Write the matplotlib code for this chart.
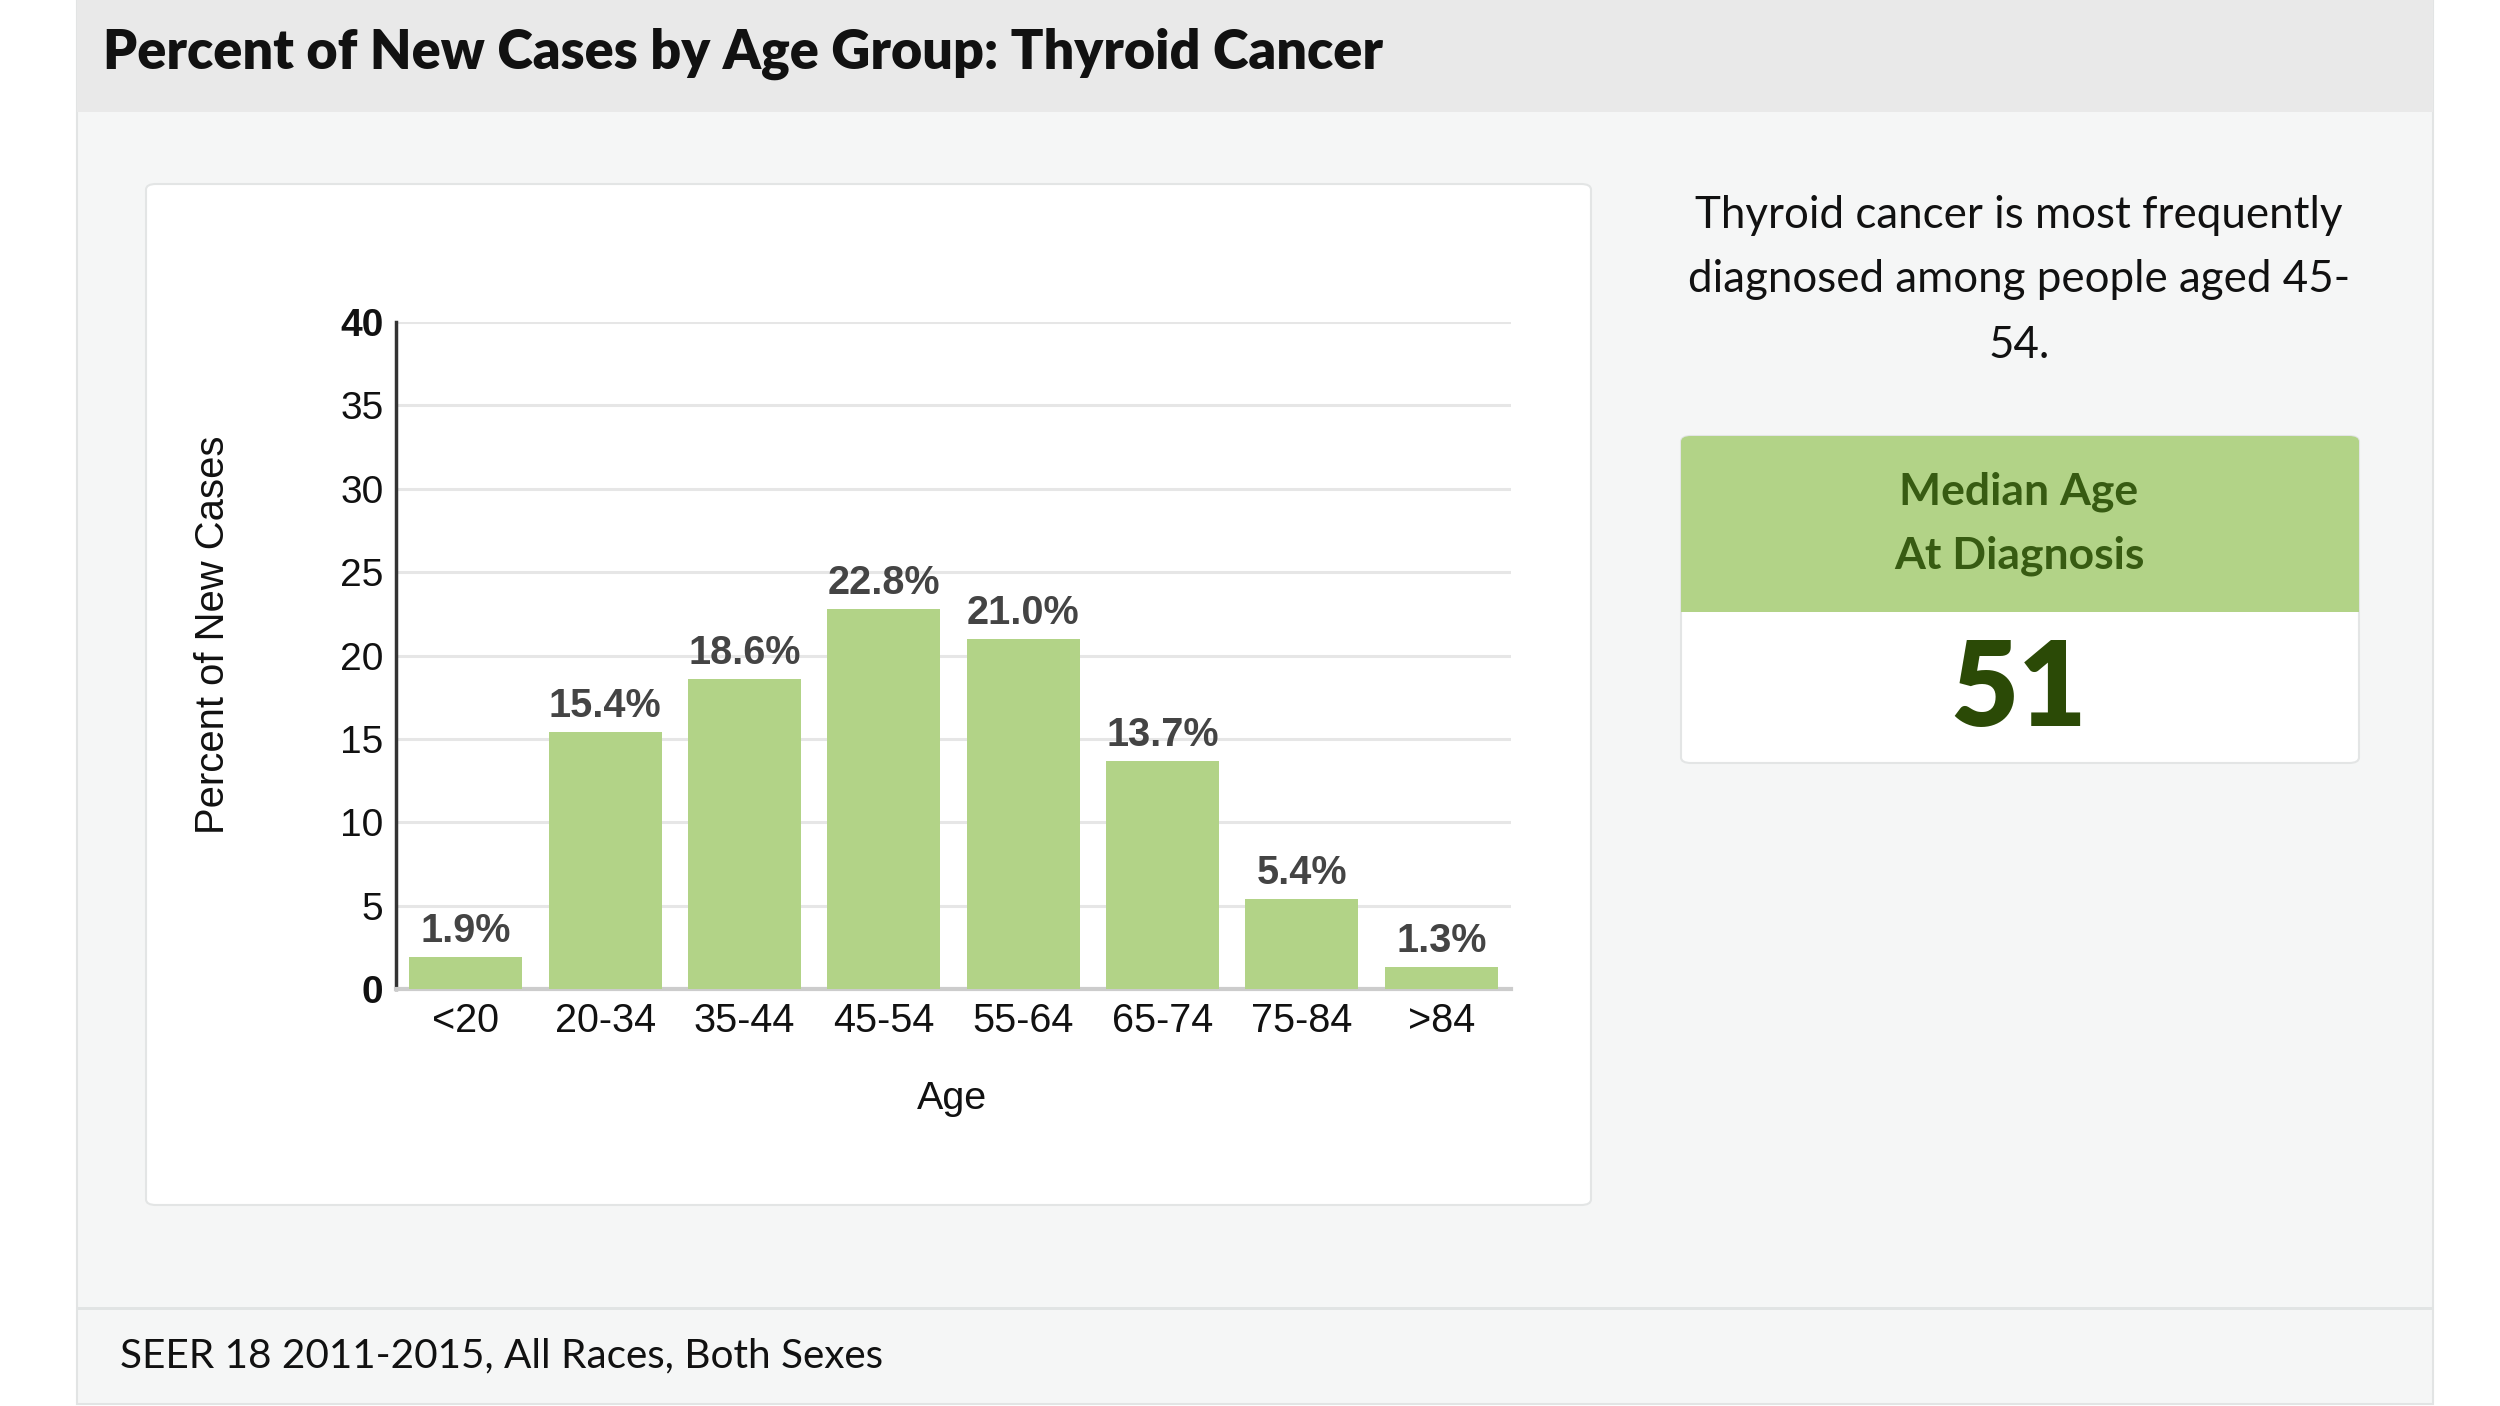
import matplotlib
matplotlib.use("Agg")
import matplotlib.pyplot as plt
from matplotlib.patches import FancyBboxPatch, Rectangle

# ---- data ----
age_groups = ["<20", "20-34", "35-44", "45-54", "55-64", "65-74", "75-84", ">84"]
percent_new_cases = [1.9, 15.4, 18.6, 22.8, 21.0, 13.7, 5.4, 1.3]
y_ticks = [0, 5, 10, 15, 20, 25, 30, 35, 40]
title_text = "Percent of New Cases by Age Group: Thyroid Cancer"
summary_text = ["Thyroid cancer is most frequently", "diagnosed among people aged 45-", "54."]
median_label = ["Median Age", "At Diagnosis"]
median_age = "51"
footer_text = "SEER 18 2011-2015, All Races, Both Sexes"

W, H = 2500, 1406
fig = plt.figure(figsize=(W / 100, H / 100), dpi=100)
fig.patch.set_facecolor("white")
renderer = fig.canvas.get_renderer()


def fx(x):
    return x / W


def fy(y):
    return 1 - y / H


def rect(x0, y0, x1, y1, fc, ec="none", lw=0, rounded=0, z=0):
    if rounded:
        p = FancyBboxPatch((fx(x0), fy(y1)), fx(x1) - fx(x0), fy(y0) - fy(y1),
                           boxstyle=f"round,pad=0,rounding_size={rounded / W}",
                           transform=fig.transFigure, fc=fc, ec=ec, lw=lw, zorder=z)
    else:
        p = Rectangle((fx(x0), fy(y1)), fx(x1) - fx(x0), fy(y0) - fy(y1),
                      transform=fig.transFigure, fc=fc, ec=ec, lw=lw, zorder=z)
    fig.add_artist(p)
    return p


def fit_text(x, y, s, target_w, ha="center", va="center", vertical=False, **kw):
    t = fig.text(fx(x), fy(y), s, ha=ha, va=va, fontsize=20,
                 rotation=90 if vertical else 0, zorder=10, **kw)
    bb = t.get_window_extent(renderer)
    w = bb.height if vertical else bb.width
    t.set_fontsize(20 * target_w / w)
    return t


# ---- panel backgrounds ----
rect(77, 0, 2433, 1404, "#f5f6f6", ec="#e2e4e4", lw=1.5, z=0)
rect(77, 0, 2433, 112, "#e9e9e9", z=1)
rect(77, 1307, 2433, 1310, "#e1e4e4", z=1)

# chart card
rect(146, 184, 1591, 1205, "white", ec="#e3e5e5", lw=1.5, rounded=10, z=1)

# title
fit_text(103, 54, title_text, 1278, ha="left", family="Lato", weight="heavy", color="#111111")

# ---- bar chart ----
ax = fig.add_axes([fx(396), fy(989), fx(1511) - fx(396), fy(322) - fy(989)])
ax.set_zorder(5)
ax.set_facecolor("none")
x = list(range(len(age_groups)))
bar_color = "#b2d387"
ax.bar(x, percent_new_cases, width=0.81, color=bar_color, zorder=3)
ax.set_xlim(-0.5, len(age_groups) - 0.5)
ax.set_ylim(0, 40)
ax.set_yticks(y_ticks)
ax.set_yticklabels([str(v) for v in y_ticks])
ax.set_xticks(x)
ax.set_xticklabels(age_groups)
ax.grid(axis="y", color="#e6e6e6", lw=2.2, zorder=0)
ax.set_axisbelow(True)
for s in ["top", "right"]:
    ax.spines[s].set_visible(False)
ax.spines["left"].set_color("#333333")
ax.spines["left"].set_linewidth(2.5)
ax.spines["bottom"].set_color("#cccccc")
ax.spines["bottom"].set_linewidth(3)
ax.tick_params(axis="both", length=0)
ax.tick_params(axis="y", pad=9, labelsize=28, labelcolor="#111111")
ax.tick_params(axis="x", pad=9, labelsize=28.5, labelcolor="#111111")
for lab in ax.get_yticklabels() + ax.get_xticklabels():
    lab.set_family("Liberation Sans")
yl = ax.get_yticklabels()
yl[0].set_weight("bold")
yl[-1].set_weight("bold")

for xi, v in zip(x, percent_new_cases):
    ax.annotate(f"{v:.1f}%", (xi, v), xytext=(0, 5), textcoords="offset points",
                ha="center", va="bottom", fontsize=28.5, weight="bold",
                family="Liberation Sans", color="#444444", zorder=4)

fit_text(213, 635, "Percent of New Cases", 397, vertical=True,
         family="Liberation Sans", color="#111111")
fit_text(952, 1099, "Age", 70, family="Liberation Sans", color="#111111")

# ---- right side text ----
fs = None
for i, (line, yy) in enumerate(zip(summary_text, [215, 280, 345])):
    if i == 0:
        t = fit_text(2019, yy, line, 649, family="Lato", color="#111111")
        fs = t.get_fontsize()
    else:
        fig.text(fx(2019), fy(yy), line, ha="center", va="center", fontsize=fs,
                 family="Lato", color="#111111", zorder=10)

# median box
rect(1681, 436, 2359, 763, "white", ec="#e3e5e5", lw=1.5, rounded=10, z=1)
rect(1681, 436, 2359, 612, bar_color, ec="none", rounded=10, z=2)
rect(1681, 560, 2359, 612, bar_color, z=2)
t1 = fit_text(2019, 492, median_label[0], 239, family="Lato", weight="bold", color="#375b12")
fig.text(fx(2019), fy(556), median_label[1], ha="center", va="center", fontsize=t1.get_fontsize(),
         family="Lato", weight="bold", color="#375b12", zorder=10)
fit_text(2019, 692, median_age, 136, family="Lato", weight="heavy", color="#2b4a06")

# footer
fit_text(120, 1356, footer_text, 763, ha="left", family="Lato", color="#111111")

fig.savefig("out.png", dpi=100, facecolor=fig.get_facecolor())
